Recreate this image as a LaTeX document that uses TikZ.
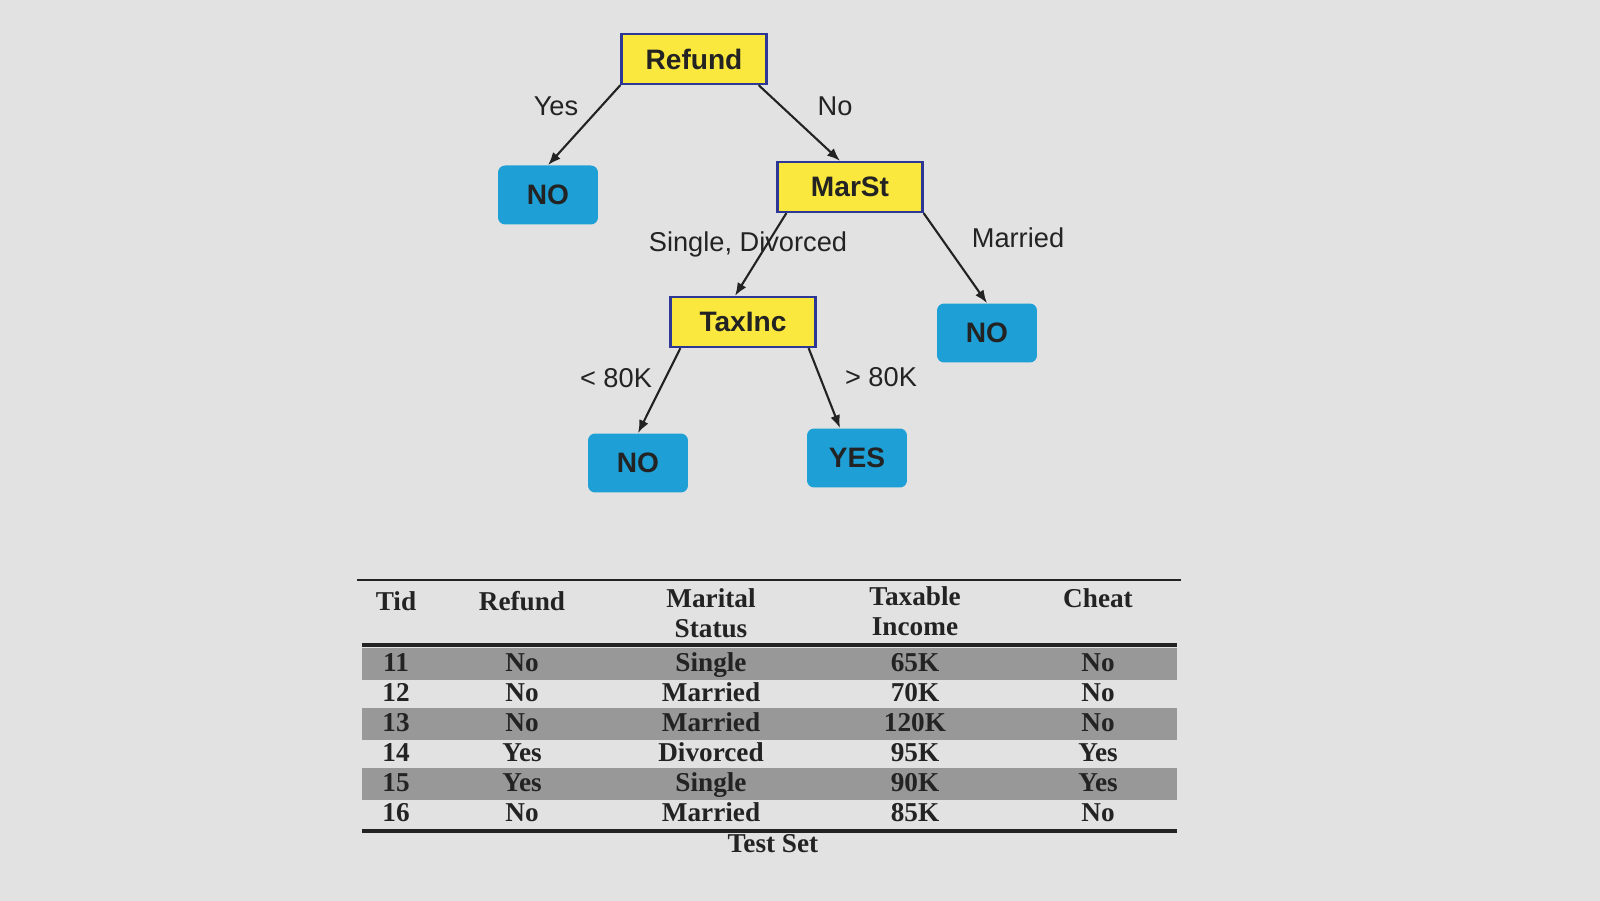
\documentclass[tikz,border=0pt]{standalone}
\usepackage{fontspec}
\setmainfont{Liberation Serif}
\newfontfamily\treefont{Liberation Sans}
\usetikzlibrary{arrows.meta,positioning,calc}

\definecolor{paper}{RGB}{226,226,226}
\definecolor{testfill}{RGB}{250,232,62}
\definecolor{testline}{RGB}{45,55,150}
\definecolor{leafblue}{RGB}{30,160,214}
\definecolor{band}{RGB}{152,152,152}
\definecolor{ink}{RGB}{35,35,35}

\begin{document}
\begin{tikzpicture}[x=0.02cm,y=-0.02cm,>={Latex[length=2.6mm,width=2mm]},
    test/.style={draw=testline,line width=1.3pt,fill=testfill,text=ink,minimum width=2.9cm,minimum height=1.0cm,font=\treefont\bfseries\fontsize{16}{18}\selectfont},
    leaf/.style={fill=leafblue,rounded corners=4pt,text=ink,minimum width=2cm,minimum height=1.18cm,font=\treefont\bfseries\fontsize{16}{18}\selectfont},
    lbl/.style={text=ink,font=\treefont\fontsize{15.5}{18}\selectfont},
    conn/.style={->,draw=ink,line width=1.2pt},
    hcell/.style={text=ink,align=center,font=\bfseries\fontsize{15.5}{17}\selectfont},
    cell/.style={hcell,text height=1.6ex,text depth=0.45ex}]
    \fill[paper] (0,0) rectangle (1600,901);
    % tree
    \node[test] (refund) at (694,59) {Refund};
    \node[leaf] (no1) at (548,195) {NO};
    \node[test] (marst) at (850,187) {MarSt};
    \node[test] (taxinc) at (743,322) {TaxInc};
    \node[leaf] (no2) at (987,333) {NO};
    \node[leaf] (no3) at (638,463) {NO};
    \node[leaf] (yes) at (857,458) {YES};
    \node[lbl] (lyes) at (556,106) {Yes};
    \node[lbl] (lno) at (835,106) {No};
    \node[lbl] (lsd) at (748,244) {Single, Divorced};
    \node[lbl] (lmar) at (1018,238) {Married};
    \node[lbl] (llt) at (616,378) {< 80K};
    \node[lbl] (lgt) at (881,377) {> 80K};
    \draw[conn] (refund.south west) -- (no1.north);
    \draw[conn] ([xshift=-0.18cm]refund.south east) -- ([xshift=-0.2cm]marst.north);
    \draw[conn] ([xshift=0.2cm]marst.south west) -- ([xshift=-0.16cm]taxinc.north);
    \draw[conn] (marst.south east) -- (no2.north);
    \draw[conn] ([xshift=0.22cm]taxinc.south west) -- (no3.north);
    \draw[conn] ([xshift=-0.16cm]taxinc.south east) -- ([xshift=-0.34cm]yes.north);
    % test set table
    \foreach \r in {0,2,4}
      \fill[band] (362,{648+30*\r}) rectangle (1177,{680+30*\r});
    \draw[ink,line width=1.2pt] (357,580) -- (1181,580);
    \draw[ink,line width=1.8pt] (362,645) -- (1177,645);
    \draw[ink,line width=1.8pt] (362,831) -- (1177,831);
    \node[hcell] (htid) at (396,601) {Tid};
    \node[hcell] (href) at (522,601) {Refund};
    \node[hcell] (hmar) at (711,613) {Marital\\Status};
    \node[hcell] (htax) at (915,611) {Taxable\\Income};
    \node[hcell] (hcht) at (1098,598) {Cheat};
    \foreach \tid/\rf/\ms/\ti/\ch [count=\i from 0] in
      {11/No/Single/65K/No, 12/No/Married/70K/No, 13/No/Married/120K/No,
       14/Yes/Divorced/95K/Yes, 15/Yes/Single/90K/Yes, 16/No/Married/85K/No} {
      \node[cell] (tid\tid) at (396,{667+30*\i}) {\tid};
      \node[cell] (ref\tid) at (522,{667+30*\i}) {\rf};
      \node[cell] (mar\tid) at (711,{667+30*\i}) {\ms};
      \node[cell] (tax\tid) at (915,{667+30*\i}) {\ti};
      \node[cell] (cht\tid) at (1098,{667+30*\i}) {\ch};
    }
    \node[cell] (caption) at (773,848) {Test Set};
\end{tikzpicture}
\end{document}
